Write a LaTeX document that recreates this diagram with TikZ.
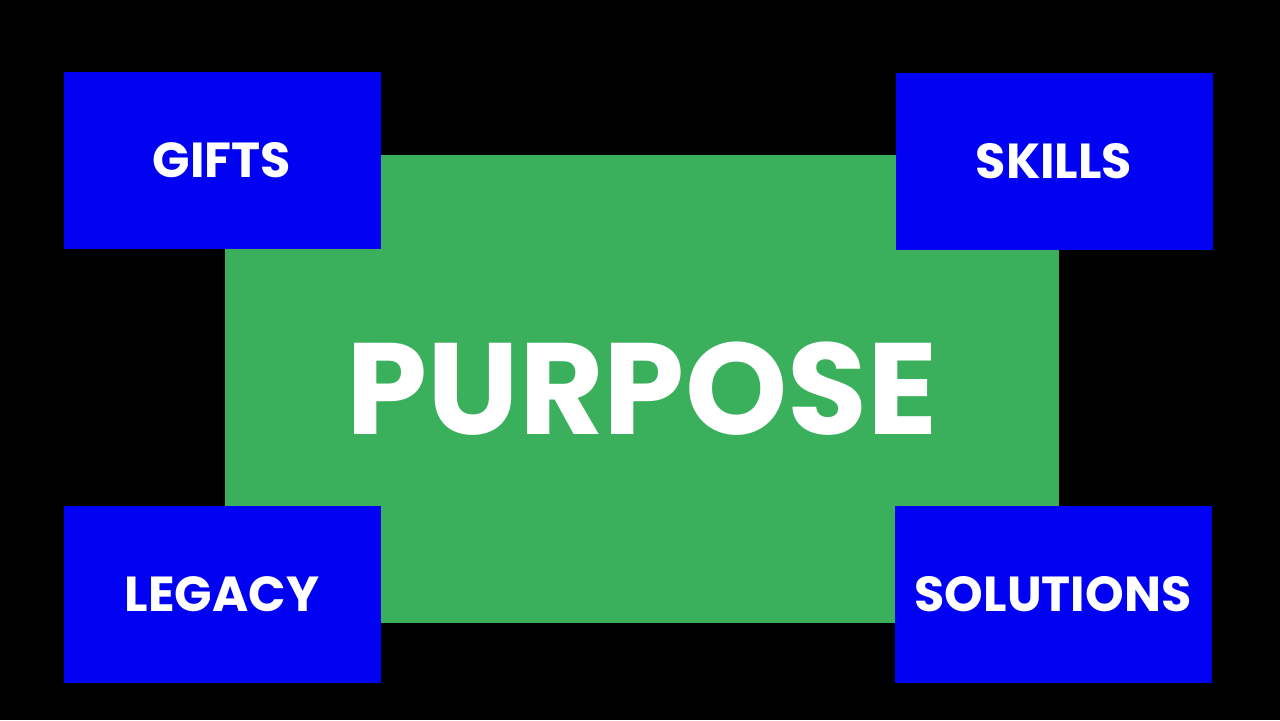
\documentclass[tikz,border=0pt]{standalone}
\usepackage{fontspec}
\setmainfont{Poppins}
\usepackage{xcolor}
\usetikzlibrary{positioning}
\definecolor{boxblue}{RGB}{2,2,242}
\definecolor{boxgreen}{RGB}{58,175,92}

\begin{document}
\begin{tikzpicture}[x=0.1mm, y=0.1mm,
    corner/.style={rectangle, fill=boxblue, text=white, inner sep=0pt, minimum width=31.7mm, minimum height=17.7mm, font=\fontsize{14}{17}\selectfont\bfseries},
    core/.style={rectangle, fill=boxgreen, text=white, inner sep=0pt, minimum width=83.4mm, minimum height=46.8mm, font=\fontsize{37}{44}\selectfont\bfseries}]
    \fill[black] (0,0) rectangle (1280,720);
    \useasboundingbox (0,0) rectangle (1280,720);
    \node[core] (purpose) at (642,331) {PURPOSE};
    \node[corner] (gifts) at (222,559.5) {GIFTS};
    \node[corner] (skills) at (1054,559) {SKILLS};
    \node[corner] (legacy) at (222,126) {LEGACY};
    \node[corner] (solutions) at (1053,125.5) {SOLUTIONS};
\end{tikzpicture}
\end{document}
